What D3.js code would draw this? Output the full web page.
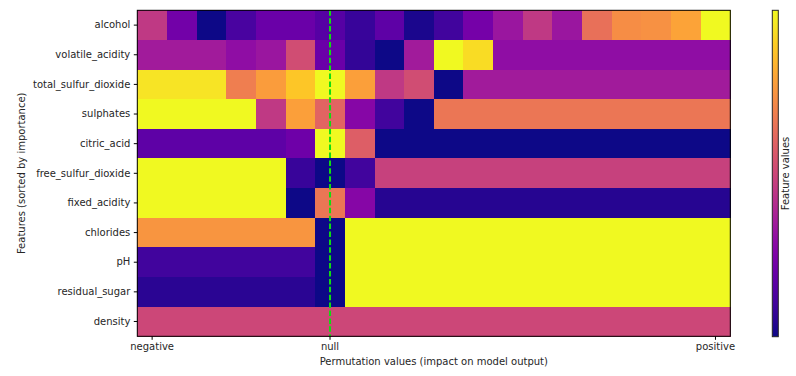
<!DOCTYPE html>
<html>
<head>
<meta charset="utf-8">
<script src="https://cdn.jsdelivr.net/npm/d3@7/dist/d3.min.js"></script>
<style>
  html, body { margin: 0; padding: 0; background: #fff; }
  svg text { font-family: "DejaVu Sans", sans-serif; fill: #262626; }
</style>
</head>
<body>
<svg id="chart" width="796" height="376"></svg>
<script>
// ---- data ----
const features = ["alcohol","volatile_acidity","total_sulfur_dioxide","sulphates","citric_acid",
  "free_sulfur_dioxide","fixed_acidity","chlorides","pH","residual_sugar","density"];
const permutationSteps = d3.range(20);
const xTickPositions = [0, 6, 19];
const xTickLabels = ["negative", "null", "positive"];
const nullPosition = 6;
// normalised feature values per row (0 = low, 1 = high)
const alcohol            = [0.45,0.22,0.00,0.12,0.20,0.20,0.15,0.08,0.17,0.02,0.10,0.23,0.33,0.45,0.33,0.64,0.73,0.74,0.79,1.00];
const volatileAcidity    = [0.35,0.35,0.35,0.30,0.33,0.52,0.20,0.07,0.00,0.35,1.00,0.93,0.30,0.30,0.30,0.30,0.30,0.30,0.30,0.30];
const totalSulfurDioxide = [0.95,0.95,0.95,0.68,0.77,0.88,1.00,0.78,0.45,0.52,0.00,0.35,0.35,0.35,0.35,0.35,0.35,0.35,0.35,0.35];
const sulphates          = [1.00,1.00,1.00,1.00,0.45,0.78,0.60,0.27,0.10,0.00,0.66,0.66,0.66,0.66,0.66,0.66,0.66,0.66,0.66,0.66];
const citricAcid         = [0.17,0.17,0.17,0.17,0.17,0.21,1.00,0.58,0.00,0.00,0.00,0.00,0.00,0.00,0.00,0.00,0.00,0.00,0.00,0.00];
const freeSulfurDioxide  = [1.00,1.00,1.00,1.00,1.00,0.08,0.00,0.10,0.48,0.48,0.48,0.48,0.48,0.48,0.48,0.48,0.48,0.48,0.48,0.48];
const fixedAcidity       = [1.00,1.00,1.00,1.00,1.00,0.00,0.66,0.27,0.04,0.04,0.04,0.04,0.04,0.04,0.04,0.04,0.04,0.04,0.04,0.04];
const chlorides          = [0.75,0.75,0.75,0.75,0.75,0.75,0.00,1.00,1.00,1.00,1.00,1.00,1.00,1.00,1.00,1.00,1.00,1.00,1.00,1.00];
const pH                 = [0.10,0.10,0.10,0.10,0.10,0.10,0.00,1.00,1.00,1.00,1.00,1.00,1.00,1.00,1.00,1.00,1.00,1.00,1.00,1.00];
const residualSugar      = [0.05,0.05,0.05,0.05,0.05,0.05,0.00,1.00,1.00,1.00,1.00,1.00,1.00,1.00,1.00,1.00,1.00,1.00,1.00,1.00];
const density            = [0.50,0.50,0.50,0.50,0.50,0.50,0.50,0.50,0.50,0.50,0.50,0.50,0.50,0.50,0.50,0.50,0.50,0.50,0.50,0.50];
const rows = [alcohol, volatileAcidity, totalSulfurDioxide, sulphates, citricAcid,
  freeSulfurDioxide, fixedAcidity, chlorides, pH, residualSugar, density];

// ---- layout ----
const svg = d3.select("#chart");
const plot = { left: 137.3, right: 730.3, top: 10.3, bottom: 336.3 };

const x = d3.scaleBand().domain(permutationSteps).range([plot.left, plot.right]).padding(0);
const y = d3.scaleBand().domain(features).range([plot.top, plot.bottom]).padding(0);
const color = d3.scaleSequential(d3.interpolatePlasma).domain([0, 1]);

const cells = [];
rows.forEach((r, i) => r.forEach((v, j) => cells.push({ f: features[i], s: permutationSteps[j], v })));

svg.append("g").attr("shape-rendering", "crispEdges")
  .selectAll("rect").data(cells).join("rect")
  .attr("x", d => Math.round(x(d.s)))
  .attr("y", d => Math.round(y(d.f)))
  .attr("width", d => Math.round(x(d.s) + x.bandwidth()) - Math.round(x(d.s)) + 1)
  .attr("height", d => Math.round(y(d.f) + y.bandwidth()) - Math.round(y(d.f)) + 1)
  .attr("fill", d => color(d.v));

// null dashed line
const nx = x(nullPosition) + x.bandwidth() / 2;
svg.append("line")
  .attr("x1", nx).attr("x2", nx)
  .attr("y1", plot.top).attr("y2", plot.bottom)
  .attr("stroke", "#11dd11").attr("stroke-width", 2)
  .attr("stroke-dasharray", "5.5,2.4");

// frame
svg.append("rect")
  .attr("x", plot.left).attr("y", plot.top)
  .attr("width", plot.right - plot.left).attr("height", plot.bottom - plot.top)
  .attr("fill", "none").attr("stroke", "#000").attr("stroke-width", 1);

// x axis
const xAxis = d3.axisBottom(x)
  .tickValues(xTickPositions)
  .tickFormat((d, i) => xTickLabels[i])
  .tickSize(3.5).tickPadding(3.5);
const gx = svg.append("g").attr("transform", `translate(0,${plot.bottom})`).call(xAxis);
gx.select(".domain").remove();
gx.selectAll("line").attr("stroke", "#000");
gx.selectAll("text").attr("font-size", 10).attr("fill", "#262626");

// y axis
const yAxis = d3.axisLeft(y).tickSize(3.5).tickPadding(3.5);
const gy = svg.append("g").attr("transform", `translate(${plot.left},0)`).call(yAxis);
gy.select(".domain").remove();
gy.selectAll("line").attr("stroke", "#000");
gy.selectAll("text").attr("font-size", 10).attr("fill", "#262626");

// axis titles
svg.append("text")
  .attr("x", (plot.left + plot.right) / 2).attr("y", 365)
  .attr("text-anchor", "middle").attr("font-size", 10)
  .text("Permutation values (impact on model output)");
svg.append("text")
  .attr("transform", `translate(25,${(plot.top + plot.bottom) / 2}) rotate(-90)`)
  .attr("text-anchor", "middle").attr("font-size", 10)
  .text("Features (sorted by importance)");

// colorbar
const cb = { x: 772.3, w: 6, top: 10.3, bottom: 336.7 };
const defs = svg.append("defs");
const grad = defs.append("linearGradient").attr("id", "plasmaGrad")
  .attr("x1", "0").attr("y1", "1").attr("x2", "0").attr("y2", "0");
d3.range(0, 1.0001, 0.05).forEach(t => {
  grad.append("stop").attr("offset", t).attr("stop-color", color(t));
});
svg.append("rect")
  .attr("x", cb.x).attr("y", cb.top)
  .attr("width", cb.w).attr("height", cb.bottom - cb.top)
  .attr("fill", "url(#plasmaGrad)")
  .attr("stroke", "#262626").attr("stroke-width", 1);
svg.append("text")
  .attr("transform", `translate(789,${(cb.top + cb.bottom) / 2}) rotate(-90)`)
  .attr("text-anchor", "middle").attr("font-size", 10)
  .text("Feature values");
</script>
</body>
</html>
